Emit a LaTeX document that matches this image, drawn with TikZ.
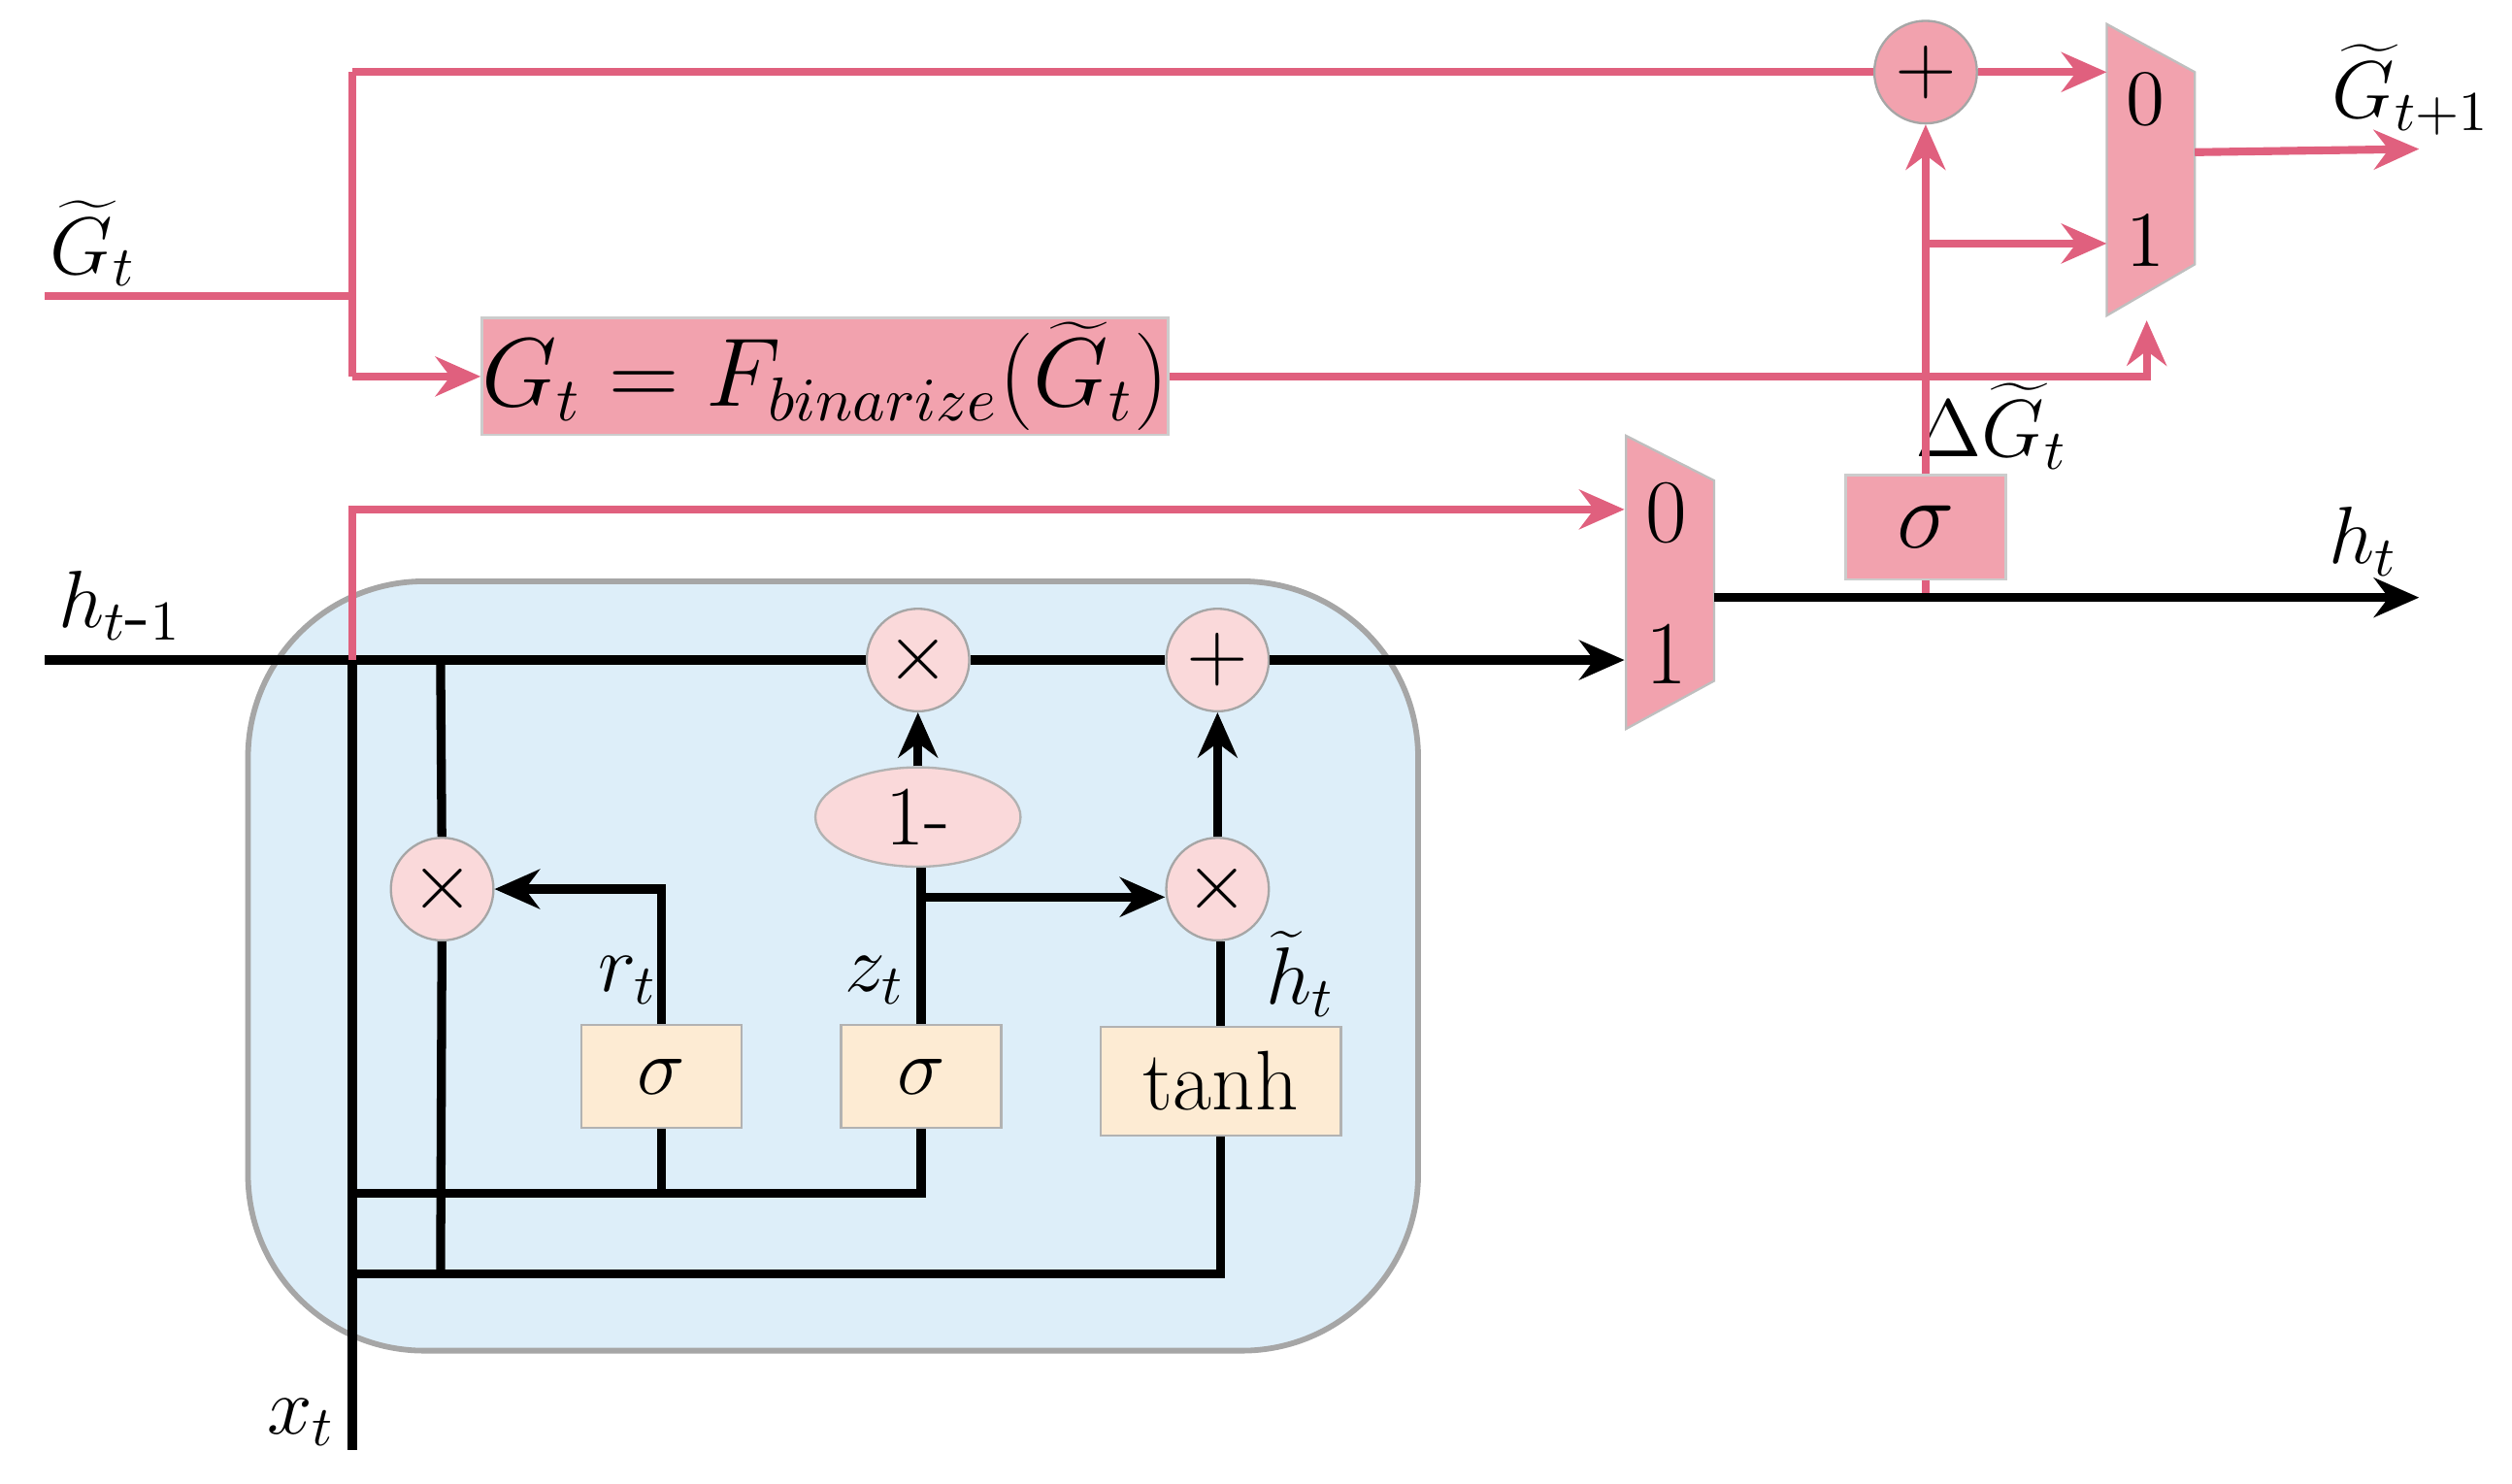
\documentclass[tikz,border=0pt]{standalone}
\usetikzlibrary{arrows.meta,shapes.geometric}
\definecolor{rl}{HTML}{E0607E}
\definecolor{pk}{HTML}{F2A2AE}
\definecolor{lp}{HTML}{FAD9DA}
\definecolor{bb}{HTML}{DDEEF9}
\definecolor{cr}{HTML}{FDEBD3}
\begin{document}
\begin{tikzpicture}[x=0.01cm,y=-0.01cm,
 red/.style={draw=rl,line width=1.4pt},
 blk/.style={draw=black,line width=1.6pt},
 arr/.style={-{Stealth[length=8pt,width=7pt]}},
 circ/.style={circle,draw=gray!70,fill=lp,minimum size=0.64cm,inner sep=0pt,font=\fontsize{15}{15}\selectfont},
 gbox/.style={draw=gray!60,fill=cr,minimum width=1cm,minimum height=0.64cm,inner sep=0pt,font=\fontsize{15}{17}\selectfont},
 lab/.style={font=\fontsize{14}{15}\selectfont},
 mux/.style={fill=pk,draw=gray!50}]
\useasboundingbox (0,0) rectangle (1568,926);
% blue box
\node[draw=gray!70,fill=bb,rounded corners=1.1cm,line width=1pt,minimum width=7.3cm,minimum height=4.8cm] (bg) at (520,603) {};
% muxes
\filldraw[mux] (1315,15) -- (1370,45) -- (1370,165) -- (1315,197) -- cycle;
\filldraw[mux] (1015,272) -- (1070,300) -- (1070,425) -- (1015,455) -- cycle;
\node[lab] (m0) at (1339,62) {0};
\node[lab] (m1) at (1339,150) {1};
\node[font=\fontsize{16}{16}\selectfont] (n0) at (1040,320) {0};
\node[font=\fontsize{16}{16}\selectfont] (n1) at (1040,408) {1};
\coordinate (mA0) at (1315,45); \coordinate (mA1) at (1315,152);
\coordinate (mAb) at (1340,200); \coordinate (mAo) at (1370,95);
\coordinate (mB0) at (1014,318); \coordinate (mB1) at (1014,412);
\coordinate (mBo) at (1070,373);
% nodes
\node[circ,fill=pk] (tp) at (1202,45) {$+$};
\node[fill=pk,draw=gray!40,minimum width=4.16cm,minimum height=0.73cm,inner sep=0pt,font=\fontsize{16}{17}\selectfont] (bin) at (515,235) {$G_t = F_{binarize}(\widetilde{G}_t)$};
\node[fill=pk,draw=gray!40,minimum width=1cm,minimum height=0.65cm,font=\fontsize{17}{17}\selectfont] (sg) at (1202,329) {$\sigma$};
\node[circ] (m1c) at (573,412) {$\times$};
\node[circ] (p1c) at (760,412) {$+$};
\node[circ] (m2c) at (276,555) {$\times$};
\node[circ] (m3c) at (760,555) {$\times$};
\node[ellipse,draw=gray!60,fill=lp,minimum width=1.28cm,minimum height=0.62cm,inner sep=0pt,font=\fontsize{15}{15}\selectfont] (om) at (573,510) {1-};
\node[gbox] (s1) at (413,672) {$\sigma$};
\node[gbox] (s2) at (575,672) {$\sigma$};
\node[gbox,minimum width=1.5cm,minimum height=0.68cm] (th) at (762,675) {tanh};
% labels
\node[lab] (lg) at (58,152) {$\widetilde{G}_t$};
\node[lab] (lg1) at (1505,56) {$\widetilde{G}_{t+1}$};
\node[lab] (ld) at (1243,266) {$\Delta\widetilde{G}_t$};
\node[lab] (lh) at (1475,338) {$h_t$};
\node[lab] (lh1) at (75,378) {$h_{t\mbox{-}1}$};
\node[lab] (lx) at (188,888) {$x_t$};
\node[lab] (lr) at (392,612) {$r_t$};
\node[lab] (lz) at (546,612) {$z_t$};
\node[lab] (lht) at (812,608) {$\widetilde{h}_t$};
% coordinates
\coordinate (gin) at (28,185); \coordinate (gs) at (220,185);
\coordinate (gt) at (220,45); \coordinate (gb) at (220,235);
\coordinate (gout) at (1510,93); \coordinate (hout) at (1510,373);
\coordinate (hin) at (28,412); \coordinate (xin) at (220,905);
% red
\draw[red] (gin) -- (gs);
\draw[red] (gt) -- (gb);
\draw[red] (gt) -- (tp);
\draw[red,arr] (tp) -- (mA0);
\draw[red,arr] (gb) -- (bin.west);
\draw[red,arr] (bin.east) -| (mAb);
\draw[red,arr] (sg.north) -- (tp.south);
\draw[red,arr] (1202,152) -- (mA1);
\draw[red,arr] (mAo) -- (gout);
\draw[red] (sg.south) -- (1202,373);
% black
\draw[blk,arr] (mBo) -- (hout);
\draw[blk] (hin) -- (m1c) -- (p1c);
\draw[blk,arr] (p1c) -- (mB1);
\draw[red,arr] (220,412) -- (220,318) -- (mB0);
\draw[blk] (xin) -- (220,412);
\draw[blk] (275,412) -- (m2c) -- (275,795);
\draw[blk] (220,745) -| (s1.south); \draw[blk] (413,745) -| (s2.south);
\draw[blk] (220,795) -| (th.south);
\draw[blk,arr] (s1.north) |- (m2c.east);
\draw[blk] (s2.north) -- (s2.north|-om.south);
\draw[blk,arr] (575,560) -- (m3c.west|-0,560);
\draw[blk,arr] (om.north) -- (m1c.south);
\draw[blk] (th.north) -- (th.north|-m3c.south);
\draw[blk,arr] (m3c.north) -- (p1c.south);
\end{tikzpicture}
\end{document}
